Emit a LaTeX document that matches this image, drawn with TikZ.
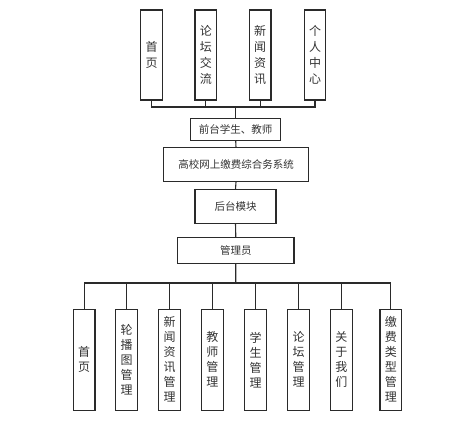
\documentclass[tikz,border=0pt]{standalone}
\usepackage{fontspec}
\newfontfamily\cjk{Noto Sans CJK SC}
\definecolor{ln}{HTML}{2A2A2A}
\definecolor{tx}{HTML}{333333}
\begin{document}
\begin{tikzpicture}[x=1pt,y=-1pt,
  every node/.style={inner sep=0pt,outer sep=0pt,text=tx},
  box/.style={draw=ln,line width=1.1pt,fill=white},
  vbox/.style={box,minimum width=21.6pt,align=center,font=\cjk\fontsize{12}{16}\selectfont},
  hbox/.style={box,font=\cjk\fontsize{10.5}{12}\selectfont},
  conn/.style={draw=ln,line width=1.1pt}]
\useasboundingbox (0,0) rectangle (474,428);
% top row
\node[vbox,minimum height=90pt] (t1) at (151.5,55) {首\\页};
\node[vbox,minimum height=90pt] (t2) at (205.8,55) {论\\坛\\交\\流};
\node[vbox,minimum height=90pt] (t3) at (260.2,55) {新\\闻\\资\\讯};
\node[vbox,minimum height=90pt] (t4) at (315,55) {个\\人\\中\\心};
% central column
\node[hbox,minimum width=90pt,minimum height=21.7pt] (qt) at (235.7,129.2) {前台学生、教师};
\node[hbox,minimum width=144.6pt,minimum height=34pt] (sys) at (236,164.7) {高校网上缴费综合务系统};
\node[hbox,minimum width=81pt,minimum height=34pt] (ht) at (235.5,206.3) {后台模块};
\node[hbox,minimum width=116.3pt,minimum height=26pt] (gl) at (235.8,250.3) {管理员};
% bottom row
\tikzset{bv/.style={vbox,minimum height=100.7pt,font=\cjk\fontsize{12}{15}\selectfont}}
\node[bv] (m1) at (84.2,359.7) {首\\页};
\node[bv] (m2) at (126.7,359.7) {轮\\播\\图\\管\\理};
\node[bv] (m3) at (169.5,359.7) {新\\闻\\资\\讯\\管\\理};
\node[bv] (m4) at (212.3,359.7) {教\\师\\管\\理};
\node[bv] (m5) at (255.7,359.7) {学\\生\\管\\理};
\node[bv] (m6) at (298.5,359.7) {论\\坛\\管\\理};
\node[bv] (m7) at (341.3,359.7) {关\\于\\我\\们};
\node[bv] (m8) at (390.8,359.7) {缴\\费\\类\\型\\管\\理};
% buses
\coordinate (b1) at (235.7,107);
\coordinate (b2) at (235.7,283);
\draw[conn] (t1.south) |- (t4.south |- b1) -- (t4.south);
\draw[conn] (t2.south) -- (t2.south |- b1);
\draw[conn] (t3.south) -- (t3.south |- b1);
\draw[conn] (b1) -- (qt.north);
\draw[conn] (qt.south) -- (sys.north);
\draw[conn] (sys.south) -- (ht.north);
\draw[conn] (ht.south) -- (gl.north);
\draw[conn] (gl.south) -- (b2);
\draw[conn] (m1.north) |- (m8.north |- b2) -- (m8.north);
\foreach \m in {m2,m3,m4,m5,m6,m7}
  \draw[conn] (\m.north) -- (\m.north |- b2);
\end{tikzpicture}
\end{document}
